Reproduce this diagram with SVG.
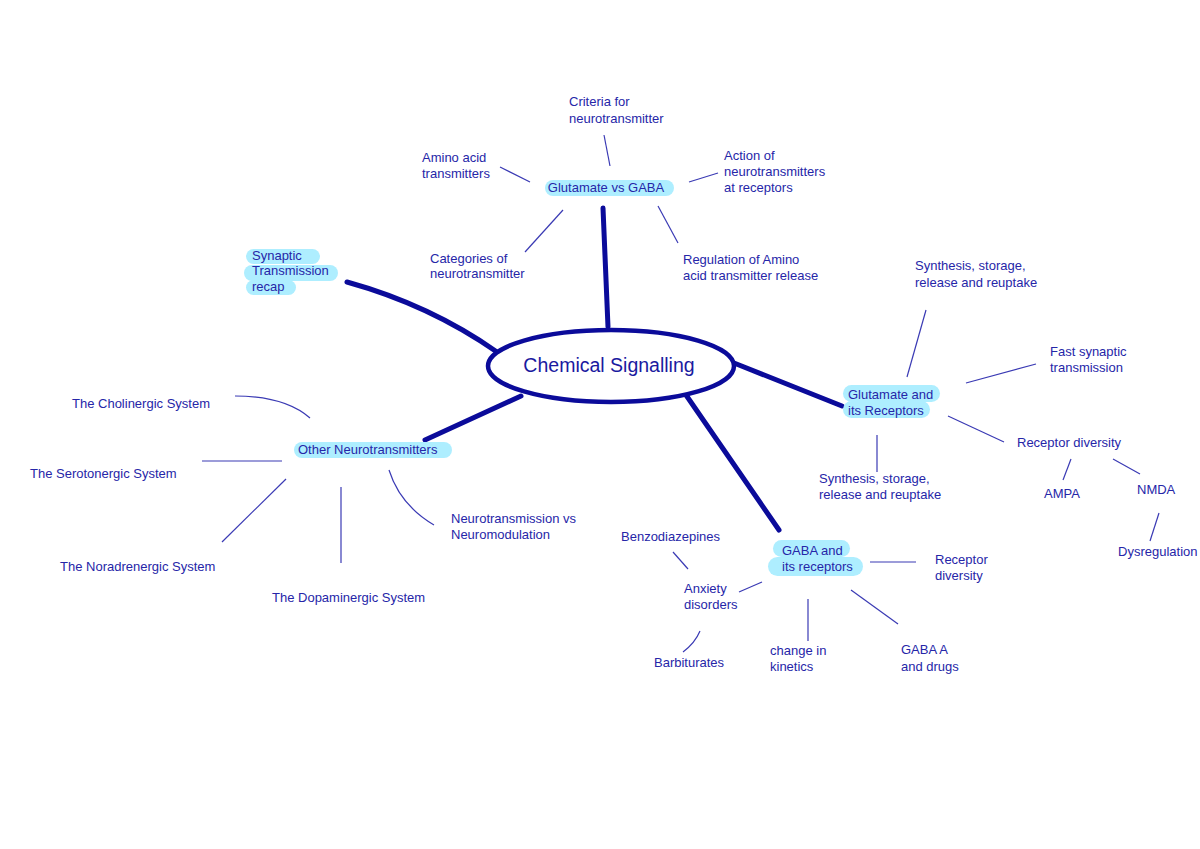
<svg xmlns="http://www.w3.org/2000/svg" width="1200" height="849" viewBox="0 0 1200 849">
<style>
text{font-family:"Liberation Sans",Arial,sans-serif;font-size:13px;fill:#2626a8}
.big{font-size:19.5px;fill:#1a1aa0}
.thick{stroke:#0b0b9a;stroke-width:5;fill:none;stroke-linecap:round}
.thin{stroke:#3a3ab4;stroke-width:1.2;fill:none}
.pill{fill:#aeeeff}
</style>
<rect width="1200" height="849" fill="#ffffff"/>
<g id="connectors">
<path class="thick" d="M603,208 L608,327"/>
<path class="thick" d="M347,282 Q430,305 497,352"/>
<path class="thick" d="M521,396 L425,440"/>
<path class="thick" d="M734,363 L842,406"/>
<path class="thick" d="M686,395 L779,530"/>
<path class="thin" d="M604,135 L610,166"/>
<path class="thin" d="M500,167 L530,182"/>
<path class="thin" d="M689,182 L718,173"/>
<path class="thin" d="M525,252 L563,210"/>
<path class="thin" d="M658,206 L678,243"/>
<path class="thin" d="M235,396 Q285,396 310,418"/>
<path class="thin" d="M202,461 L282,461"/>
<path class="thin" d="M286,479 L222,542"/>
<path class="thin" d="M341,487 L341,563"/>
<path class="thin" d="M389,470 Q400,505 434,525"/>
<path class="thin" d="M926,310 L907,377"/>
<path class="thin" d="M966,383 L1036,364"/>
<path class="thin" d="M948,416 L1004,442"/>
<path class="thin" d="M877,435 L877,472"/>
<path class="thin" d="M1071,459 L1063,480"/>
<path class="thin" d="M1113,459 L1140,474"/>
<path class="thin" d="M1159,513 L1150,541"/>
<path class="thin" d="M870,562 L916,562"/>
<path class="thin" d="M762,582 L739,592"/>
<path class="thin" d="M673,552 L688,569"/>
<path class="thin" d="M700,631 Q695,643 683,652"/>
<path class="thin" d="M808,599 L808,641"/>
<path class="thin" d="M851,590 L898,624"/>
</g>
<g id="center">
<ellipse cx="611" cy="366" rx="123" ry="36" fill="#ffffff" stroke="#0b0b9a" stroke-width="4.5"/>
<text class="big" x="609" y="372" text-anchor="middle">Chemical Signalling</text>
</g>
<g id="glutamate-vs-gaba">
<rect class="pill" x="545" y="180" width="129" height="16" rx="8"/>
<text x="606" y="192" text-anchor="middle">Glutamate vs GABA</text>
</g>
<g id="criteria"><text x="569" y="106">Criteria for</text><text x="569" y="123">neurotransmitter</text></g>
<g id="amino"><text x="422" y="162">Amino acid</text><text x="422" y="178">transmitters</text></g>
<g id="action"><text x="724" y="160">Action of</text><text x="724" y="176">neurotransmitters</text><text x="724" y="192">at receptors</text></g>
<g id="categories"><text x="430" y="263">Categories of</text><text x="430" y="278">neurotransmitter</text></g>
<g id="regulation"><text x="683" y="264">Regulation of Amino</text><text x="683" y="280">acid transmitter release</text></g>
<g id="synaptic">
<rect class="pill" x="246" y="249" width="74" height="15" rx="7.5"/>
<rect class="pill" x="244" y="265" width="94" height="16" rx="8"/>
<rect class="pill" x="246" y="280" width="50" height="15" rx="7.5"/>
<text x="252" y="260">Synaptic</text><text x="252" y="275">Transmission</text><text x="252" y="291">recap</text>
</g>
<g id="other">
<rect class="pill" x="294" y="442" width="158" height="16" rx="8"/>
<text x="298" y="454">Other Neurotransmitters</text>
</g>
<g id="cholinergic"><text x="72" y="408">The Cholinergic System</text></g>
<g id="serotonergic"><text x="30" y="478">The Serotonergic System</text></g>
<g id="noradrenergic"><text x="60" y="571">The Noradrenergic System</text></g>
<g id="dopaminergic"><text x="272" y="602">The Dopaminergic System</text></g>
<g id="neuromod"><text x="451" y="523">Neurotransmission vs</text><text x="451" y="539">Neuromodulation</text></g>
<g id="glutamate-receptors">
<rect class="pill" x="843" y="385" width="97" height="17" rx="8.5"/>
<rect class="pill" x="843" y="401" width="87" height="17" rx="8.5"/>
<text x="848" y="399">Glutamate and</text><text x="848" y="415">its Receptors</text>
</g>
<g id="synth1"><text x="915" y="270">Synthesis, storage,</text><text x="915" y="287">release and reuptake</text></g>
<g id="fast"><text x="1050" y="356">Fast synaptic</text><text x="1050" y="372">transmission</text></g>
<g id="receptor-diversity-glu"><text x="1017" y="447">Receptor diversity</text></g>
<g id="synth2"><text x="819" y="483">Synthesis, storage,</text><text x="819" y="499">release and reuptake</text></g>
<g id="ampa"><text x="1044" y="498">AMPA</text></g>
<g id="nmda"><text x="1137" y="494">NMDA</text></g>
<g id="dysregulation"><text x="1118" y="556">Dysregulation</text></g>
<g id="gaba-receptors">
<rect class="pill" x="773" y="540" width="77" height="17" rx="8.5"/>
<rect class="pill" x="768" y="557" width="95" height="19" rx="9.5"/>
<text x="782" y="555">GABA and</text><text x="782" y="571">its receptors</text>
</g>
<g id="receptor-diversity-gaba"><text x="935" y="564">Receptor</text><text x="935" y="580">diversity</text></g>
<g id="anxiety"><text x="684" y="593">Anxiety</text><text x="684" y="609">disorders</text></g>
<g id="benzo"><text x="621" y="541">Benzodiazepines</text></g>
<g id="barbiturates"><text x="654" y="667">Barbiturates</text></g>
<g id="kinetics"><text x="770" y="655">change in</text><text x="770" y="671">kinetics</text></g>
<g id="gabaa"><text x="901" y="654">GABA A</text><text x="901" y="671">and drugs</text></g>
</svg>
